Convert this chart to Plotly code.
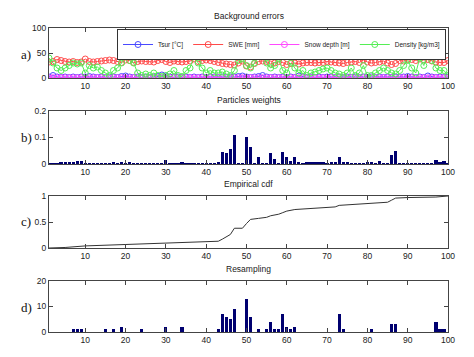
import plotly.graph_objects as go

x = list(range(1, 101))

tsur = [2, 5, 2, 1, 2, 1, 2, 1, 2, 2, 3, 2, 1, 2, 1, 2, 2, 1, 3, 4,
        2, 1, 2, 1, 2, 1, 2, 3, 6, 4, 2, 1, 2, 1, 2, 1, 2, 1, 2, 1,
        2, 2, 1, 2, 1, 2, 2, 3, 4, 2, 1, 2, 3, 5, 2, 1, 2, 1, 2, 1,
        2, 1, 4, 2, 1, 2, 1, 2, 1, 2, 2, 1, 2, 1, 2, 1, 2, 1, 2, 1,
        2, 1, 2, 1, 2, 1, 2, 1, 2, 3, 2, 1, 2, 1, 4, 2, 1, 2, 1, 2]
swe = [32, 33, 37, 35, 33, 32, 33, 31, 32, 38, 33, 32, 33, 34, 35, 36, 35, 33, 31, 36,
       35, 31, 33, 34, 33, 33, 32, 35, 37, 33, 31, 34, 33, 32, 33, 34, 38, 33, 35, 36,
       35, 33, 31, 29, 28, 27, 26, 30, 34, 24, 22, 29, 33, 34, 33, 28, 30, 33, 31, 27,
       29, 30, 28, 30, 31, 31, 30, 31, 31, 33, 32, 31, 30, 29, 31, 32, 33, 31, 36, 32,
       30, 31, 32, 34, 30, 27, 29, 35, 34, 37, 37, 35, 38, 36, 37, 34, 32, 31, 31, 35]
snow_depth = [0.5] * 100
density = [40, 30, 20, 15, 20, 25, 30, 28, 30, 10, 25, 20, 22, 15, 10, 5, 15, 20, 30, 75,
           35, 30, 10, 5, 8, 5, 10, 5, 3, 5, 8, 15, 5, 3, 15, 20, 45, 30, 20, 10,
           15, 10, 10, 12, 8, 5, 15, 35, 38, 25, 20, 30, 55, 65, 30, 20, 25, 38, 15, 10,
           30, 20, 10, 15, 5, 10, 12, 15, 18, 20, 15, 10, 8, 5, 10, 20, 5, 10, 25, 5,
           5, 10, 15, 20, 15, 10, 8, 15, 25, 35, 20, 10, 40, 25, 50, 35, 20, 15, 15, 5]

weights = [0.001, 0.001, 0.002, 0.005, 0.004, 0.004, 0.009, 0.010, 0.010, 0.002,
           0.002, 0.002, 0.001, 0.001, 0.002, 0.001, 0.008, 0.003, 0.005, 0.001,
           0.004, 0.003, 0.002, 0.003, 0.002, 0.003, 0.002, 0.001, 0.001, 0.014,
           0.002, 0.002, 0.003, 0.004, 0.002, 0.001, 0.001, 0.003, 0.001, 0.001,
           0.001, 0.002, 0.005, 0.047, 0.043, 0.055, 0.110, 0.001, 0.001, 0.102,
           0.065, 0.002, 0.028, 0.001, 0.002, 0.040, 0.020, 0.002, 0.045, 0.027,
           0.010, 0.027, 0.004, 0.003, 0.004, 0.006, 0.007, 0.006, 0.005, 0.002,
           0.005, 0.004, 0.027, 0.007, 0.004, 0.003, 0.003, 0.002, 0.001, 0.006,
           0.007, 0.003, 0.013, 0.002, 0.001, 0.035, 0.050, 0.001, 0.001, 0.001,
           0.001, 0.001, 0.001, 0.001, 0.001, 0.002, 0.014, 0.008, 0.010, 0.001]

cdf_x = [1, 5, 10, 20, 30, 40, 43, 44, 45, 46, 47, 49, 50, 51, 53, 55, 56, 58, 59,
         60, 62, 70, 72, 73, 75, 80, 83, 85, 86, 87, 90, 95, 97, 100]
cdf_y = [0.0, 0.01, 0.04, 0.07, 0.10, 0.12, 0.13, 0.17, 0.21, 0.26, 0.38, 0.38, 0.47,
         0.55, 0.57, 0.59, 0.62, 0.65, 0.68, 0.71, 0.74, 0.78, 0.79, 0.82, 0.83, 0.85,
         0.87, 0.88, 0.92, 0.96, 0.97, 0.97, 0.98, 1.0]

resamp_x = [7, 8, 9, 15, 17, 19, 24, 30, 34, 43, 44, 45, 46, 47, 50, 51, 53, 55, 56,
            57, 58, 59, 60, 61, 62, 73, 74, 81, 86, 87, 97, 98, 99]
resamp_n = [1, 1, 1, 1, 1, 2, 1, 2, 2, 1, 7, 6, 5, 9, 13, 6, 1, 1, 4,
            1, 1, 7, 2, 1, 2, 7, 1, 1, 3, 3, 4, 1, 1]

titles = ["Background errors", "Particles weights", "Empirical cdf", "Resampling"]
panel_labels = ["a)", "b)", "c)", "d)"]
xticks = [10, 20, 30, 40, 50, 60, 70, 80, 90, 100]
yticks = [[0, 50, 100], [0, 0.1, 0.2], [0, 0.5, 1], [0, 10, 20]]
ytexts = [["0", "50", "100"], ["0", "0.1", "0.2"], ["0", "0.5", "1"], ["0", "10", "20"]]
yranges = [[0, 100], [0, 0.2], [0, 1], [0, 20]]

W, H = 474, 357
L, R, T, B = 49, 448, 28, 332
panels_px = [(28, 78), (111, 164), (196, 248), (281, 332)]
title_px = [16, 100, 184, 269]
label_px = [55, 137, 222, 307]

def ypos(p):
    return (B - p) / (B - T)

def xpos(p):
    return (p - L) / (R - L)

fig = go.Figure()

series = [("Tsur [°C]", tsur, "#4a4aff"),
          ("SWE [mm]", swe, "#ff4a4a"),
          ("Snow depth [m]", snow_depth, "#ff4aff"),
          ("Density [kg/m3]", density, "#55ee55")]
for name, vals, col in series:
    fig.add_trace(go.Scatter(x=x, y=vals, name=name, mode="lines+markers",
                             line=dict(color=col, width=1),
                             marker=dict(symbol="circle-open", size=6, color=col,
                                         line=dict(width=1, color=col)),
                             xaxis="x", yaxis="y"))

fig.add_trace(go.Bar(x=x, y=weights, marker=dict(color="#000070", line=dict(width=0)),
                     width=0.8, showlegend=False, xaxis="x2", yaxis="y2"))
fig.add_trace(go.Scatter(x=cdf_x, y=cdf_y, mode="lines", line=dict(color="#333333", width=1),
                         showlegend=False, xaxis="x3", yaxis="y3"))
fig.add_trace(go.Bar(x=resamp_x, y=resamp_n, marker=dict(color="#000070", line=dict(width=0)),
                     width=0.8, showlegend=False, xaxis="x4", yaxis="y4"))

font = dict(family="Liberation Sans, Arial, sans-serif", size=9, color="#222222")
layout = dict(width=W, height=H,
              margin=dict(l=L, r=W - R, t=T, b=H - B, pad=0, autoexpand=False),
              paper_bgcolor="white", plot_bgcolor="white", font=font,
              bargap=0, showlegend=True,
              legend=dict(orientation="h", x=xpos(446), xanchor="right",
                          y=ypos(29), yanchor="top", bgcolor="white",
                          bordercolor="#333333", borderwidth=1,
                          font=dict(family="Liberation Sans, Arial, sans-serif", size=6.5),
                          itemwidth=30, tracegroupgap=0))
annotations = []
for i in range(4):
    top, bot = panels_px[i]
    sfx = "" if i == 0 else str(i + 1)
    layout["xaxis" + sfx] = dict(domain=[0, 1], range=[1, 100],
                                 tickvals=xticks, ticks="inside", ticklen=4,
                                 showline=True, linecolor="#444444", linewidth=1,
                                 mirror="ticks", showgrid=False, zeroline=False,
                                 automargin=False,
                                 anchor="y" + sfx, tickfont=dict(size=8.5))
    layout["yaxis" + sfx] = dict(domain=[ypos(bot), ypos(top)], range=yranges[i],
                                 tickvals=yticks[i], ticktext=ytexts[i],
                                 ticks="inside", ticklen=4,
                                 showline=True, linecolor="#444444", linewidth=1,
                                 mirror="ticks", showgrid=False, zeroline=False,
                                 automargin=False,
                                 anchor="x" + sfx, tickfont=dict(size=8.5))
    annotations.append(dict(text=titles[i], x=0.5, y=ypos(title_px[i]),
                            xref="paper", yref="paper", showarrow=False,
                            xanchor="center", yanchor="middle",
                            font=dict(size=8.5, color="#222222")))
    annotations.append(dict(text=panel_labels[i], x=xpos(19), y=ypos(label_px[i]),
                            xref="paper", yref="paper", showarrow=False,
                            xanchor="left", yanchor="middle",
                            font=dict(family="Liberation Serif, Times New Roman, serif",
                                      size=13, color="#111111")))
layout["annotations"] = annotations
fig.update_layout(**layout)

fig.write_html("out.html", config={"displayModeBar": False},
               post_script="document.body.style.margin='0';document.body.style.padding='0';")
